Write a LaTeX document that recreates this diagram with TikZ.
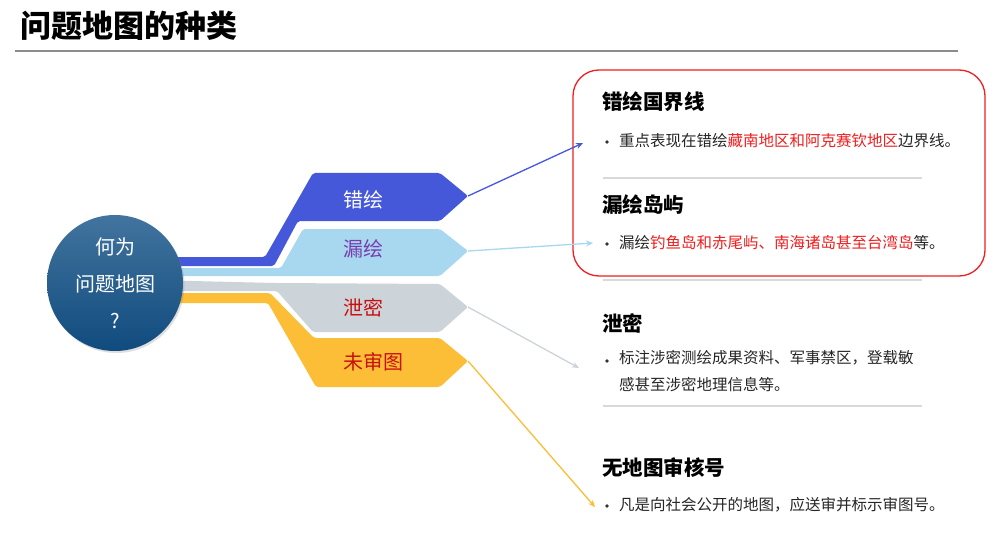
\documentclass[tikz,border=0pt]{standalone}
\usepackage{fontspec}
\setmainfont{Noto Sans CJK SC}
\usetikzlibrary{arrows.meta,shadows}

\definecolor{cuoblue}{RGB}{70,88,218}
\definecolor{loublue}{RGB}{168,216,240}
\definecolor{xiegray}{RGB}{204,212,218}
\definecolor{weiyellow}{RGB}{252,190,54}
\definecolor{circtop}{RGB}{66,116,158}
\definecolor{circbot}{RGB}{16,75,126}
\definecolor{hlred}{RGB}{240,30,30}
\definecolor{lblpurple}{RGB}{120,60,176}
\definecolor{lblred}{RGB}{200,16,16}
\newcommand{\redtxt}[1]{\textcolor{hlred}{#1}}

\begin{document}
\begin{tikzpicture}[x=1pt,y=-1pt,
    branch/.style={rounded corners=2pt},
    blabel/.style={font=\fontsize{20}{24}\selectfont},
    head/.style={anchor=west,inner sep=0pt,font=\fontsize{20.5}{24}\selectfont\bfseries},
    body/.style={anchor=west,inner sep=0pt,align=left,font=\fontsize{15.5}{27}\selectfont,text=black!85},
    dot/.style={circle,fill=black!80,inner sep=0pt,minimum size=3.6pt},
    sep/.style={black!15,line width=1.2pt},
    link/.style={line width=1.3pt,-{Stealth[length=7pt,width=6pt]}}
    ]
  \useasboundingbox[fill=white] (0,0) rectangle (1000,540);

  % title
  \node[anchor=west,inner sep=0pt,font=\fontsize{31}{36}\selectfont\bfseries] (title) at (20,26) {问题地图的种类};
  \draw[black!45,line width=1.2pt] (15,51) -- (958,51);

  % branches
  \fill[branch,cuoblue] (150,257) -- (265,257) -- (313,173) -- (440,173) -- (468,196)
    -- (440,221) -- (298,221) -- (274,266) -- (150,266) -- cycle;
  \fill[branch,loublue] (150,268) -- (281,268) -- (303,229) -- (440,229) -- (468,251)
    -- (440,276) -- (150,276) -- cycle;
  \fill[branch,xiegray] (150,280) -- (275,283) -- (440,284) -- (468,307)
    -- (440,332) -- (313,332) -- (277,291) -- (150,291) -- cycle;
  \fill[branch,weiyellow] (150,293) -- (270,293) -- (314,338) -- (440,338) -- (468,361)
    -- (440,387) -- (316,387) -- (268,303) -- (150,303) -- cycle;
  \coordinate (tipA) at (468,196);
  \coordinate (tipB) at (468,251);
  \coordinate (tipC) at (468,307);
  \coordinate (tipD) at (468,361);

  \node[blabel,text=white] (cuo) at (363,200) {错绘};
  \node[blabel,text=lblpurple] (lou) at (363,249) {漏绘};
  \node[blabel,text=lblred] (xie) at (363,308) {泄密};
  \node[blabel,text=lblred] (wei) at (373,362) {未审图};

  % centre circle
  \node[circle,minimum size=136pt,inner sep=0pt,top color=circtop,bottom color=circbot,
    drop shadow={opacity=0.25,shadow xshift=1.5pt,shadow yshift=-2pt},
    text=white,align=center,font=\fontsize{20}{37}\selectfont] (what) at (115,283)
    {何为\\问题地图\\?};

  % right side
  \draw[hlred,line width=1.3pt,rounded corners=26pt] (573,70) rectangle (985,276);

  \node[head] (hdA) at (602,102) {错绘国界线};
  \node[dot] (dotA) at (607,142) {};
  \node[body] (txtA) at (619,141) {重点表现在错绘\redtxt{藏南地区和阿克赛钦地区}边界线。};
  \draw[sep] (603,178) -- (922,178);

  \node[head] (hdB) at (602,205) {漏绘岛屿};
  \node[dot] (dotB) at (607,244) {};
  \node[body] (txtB) at (619,243) {漏绘\redtxt{钓鱼岛和赤尾屿、南海诸岛甚至台湾岛}等。};
  \draw[sep] (603,280) -- (922,280);

  \node[head] (hdC) at (602,323) {泄密};
  \node[dot] (dotC) at (607,361) {};
  \node[body,anchor=north west] (txtC) at (619,350) {标注涉密测绘成果资料、军事禁区，登载敏\\感甚至涉密地理信息等。};
  \draw[sep] (603,406) -- (922,406);

  \node[head] (hdD) at (602,468) {无地图审核号};
  \node[dot] (dotD) at (607,506) {};
  \node[body] (txtD) at (619,505) {凡是向社会公开的地图，应送审并标示审图号。};

  % links
  \coordinate (endA) at (583,143);
  \coordinate (endB) at (593,243);
  \coordinate (endC) at (579,368);
  \coordinate (endD) at (595,507);
  \draw[link,cuoblue] (tipA) -- (endA);
  \draw[link,loublue] (tipB) -- (endB);
  \draw[link,xiegray] (tipC) -- (endC);
  \draw[link,weiyellow] (tipD) -- (endD);
\end{tikzpicture}
\end{document}
